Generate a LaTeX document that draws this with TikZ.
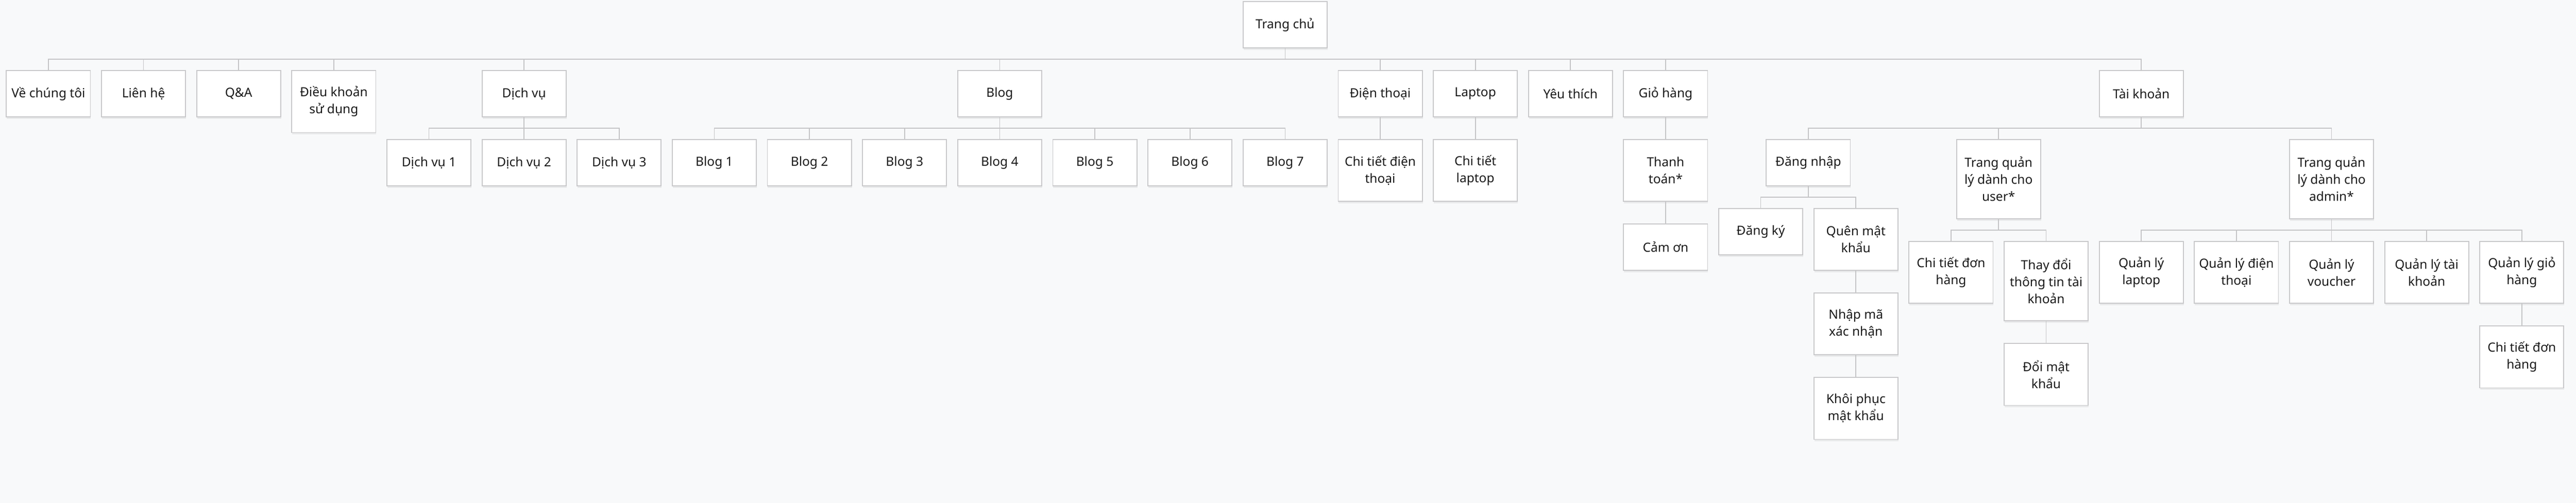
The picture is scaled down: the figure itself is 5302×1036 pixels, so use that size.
\documentclass[tikz,border=0pt]{standalone}
\usepackage{fontspec}
\setmainfont{Noto Sans}
\usetikzlibrary{positioning}
\usetikzlibrary{shadows}

\definecolor{pagebg}{RGB}{248,249,250}
\definecolor{boxline}{RGB}{200,200,202}
\definecolor{wirecol}{RGB}{196,196,198}
\definecolor{inktext}{RGB}{26,26,26}

\newcommand{\branch}[2]{\foreach \kid in {#2} {\draw[conn] (#1.south) -- ++(0,-22) -| (\kid.north);}}

\begin{document}
\begin{tikzpicture}[x=1pt, y=1pt, node distance=44pt,
  page/.style={draw=boxline, line width=2pt, fill=white, text=inktext,
    minimum width=173pt, minimum height=96pt, align=center, inner sep=4pt,
    font=\fontsize{26}{35}\selectfont,
    drop shadow={shadow xshift=1pt, shadow yshift=-4pt, opacity=0.06, fill=black}},
  two/.style={minimum height=128pt},
  three/.style={minimum height=164pt},
  shiftcol/.style={xshift={(#1)*195.8pt}},
  conn/.style={draw=wirecol, line width=1.8pt}]
\useasboundingbox (0,0) rectangle (5302,-1036);
\fill[pagebg] (0,0) rectangle (5302,-1036);

\node[page, anchor=north] (home) at (2645,-2) {Trang chủ};

% level 1
\node[page, below=of home, shiftcol=-13]      (about)   {Về chúng tôi};
\node[page, below=of home, shiftcol=-12]      (contact) {Liên hệ};
\node[page, below=of home, shiftcol=-11]      (qa)      {Q\&A};
\node[page, two, below=of home, shiftcol=-10] (terms)   {Điều khoản\\sử dụng};
\node[page, below=of home, shiftcol=-8]       (service) {Dịch vụ};
\node[page, below=of home, shiftcol=-3]       (blog)    {Blog};
\node[page, below=of home, shiftcol=1]        (phone)   {Điện thoại};
\node[page, below=of home, shiftcol=2]        (laptop)  {Laptop};
\node[page, below=of home, shiftcol=3]        (fav)     {Yêu thích};
\node[page, below=of home, shiftcol=4]        (cart)    {Giỏ hàng};
\node[page, below=of home, shiftcol=9]        (account) {Tài khoản};

% level 2
\foreach \i in {1,2,3}
  \node[page, below=of service, shiftcol=\i-2] (service\i) {Dịch vụ \i};
\foreach \i in {1,...,7}
  \node[page, below=of blog, shiftcol=\i-4] (blog\i) {Blog \i};
\node[page, two, below=of phone]  (phonedet)  {Chi tiết điện\\thoại};
\node[page, two, below=of laptop] (laptopdet) {Chi tiết\\laptop};
\node[page, two, below=of cart]   (pay)       {Thanh\\toán*};
\node[page, below=of pay]         (thanks)    {Cảm ơn};

\node[page, below=of account, shiftcol=-3.5]       (login) {Đăng nhập};
\node[page, three, below=of account, shiftcol=-1.5] (user)  {Trang quản\\lý dành cho\\user*};
\node[page, three, below=of account, shiftcol=2]    (admin) {Trang quản\\lý dành cho\\admin*};

% account pages
\node[page, below=of login, shiftcol=-0.5]     (signup)  {Đăng ký};
\node[page, two, below=of login, shiftcol=0.5] (forgot)  {Quên mật\\khẩu};
\node[page, two, below=of forgot]              (code)    {Nhập mã\\xác nhận};
\node[page, two, below=of code]                (restore) {Khôi phục\\mật khẩu};

\node[page, two, below=of user, shiftcol=-0.5]  (orders)  {Chi tiết đơn\\hàng};
\node[page, three, below=of user, shiftcol=0.5] (profile) {Thay đổi\\thông tin tài\\khoản};
\node[page, two, below=of profile]              (passwd)  {Đổi mật\\khẩu};

\node[page, two, below=of admin, shiftcol=-2] (mlaptop)  {Quản lý\\laptop};
\node[page, two, below=of admin, shiftcol=-1] (mphone)   {Quản lý điện\\thoại};
\node[page, two, below=of admin, shiftcol=0]  (mvoucher) {Quản lý\\voucher};
\node[page, two, below=of admin, shiftcol=1]  (maccount) {Quản lý tài\\khoản};
\node[page, two, below=of admin, shiftcol=2]  (mcart)    {Quản lý giỏ\\hàng};
\node[page, two, below=of mcart]              (morders)  {Chi tiết đơn\\hàng};

% Edges
\branch{home}{about,contact,qa,terms,service,blog,phone,laptop,fav,cart,account}
\branch{service}{service1,service2,service3}
\branch{blog}{blog1,blog2,blog3,blog4,blog5,blog6,blog7}
\branch{phone}{phonedet}
\branch{laptop}{laptopdet}
\branch{cart}{pay}
\branch{pay}{thanks}
\branch{account}{login,user,admin}
\branch{login}{signup,forgot}
\branch{forgot}{code}
\branch{code}{restore}
\branch{user}{orders,profile}
\branch{profile}{passwd}
\branch{admin}{mlaptop,mphone,mvoucher,maccount,mcart}
\branch{mcart}{morders}

\end{tikzpicture}
\end{document}
